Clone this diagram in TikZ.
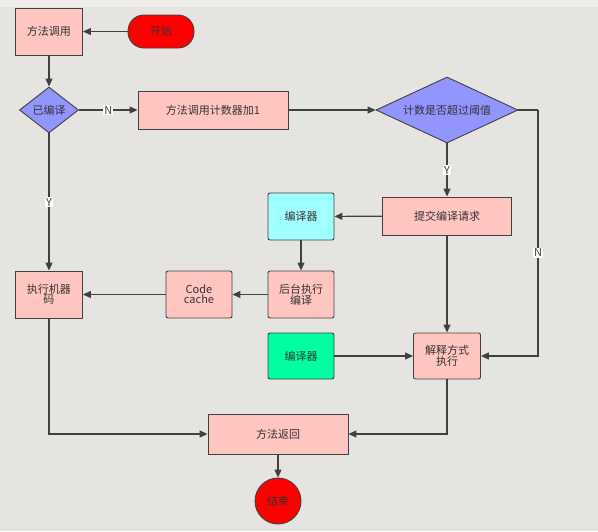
\documentclass[tikz,border=0pt]{standalone}
\usepackage{fontspec}
\setmainfont{Noto Sans CJK SC}
\usetikzlibrary{shapes.geometric,arrows.meta}
\definecolor{bg}{HTML}{E6E4E0}
\definecolor{topbg}{HTML}{EFEEEC}
\definecolor{pinkc}{HTML}{FFC6C1}
\definecolor{bluec}{HTML}{9395FF}
\definecolor{cyanc}{HTML}{A0FFFF}
\definecolor{greenc}{HTML}{00FFA0}
\definecolor{linec}{HTML}{404040}
\definecolor{txtc}{HTML}{333333}
\tikzset{
  base/.style={draw=linec, line width=0.9pt, inner sep=0pt, text=txtc, font=\fontsize{11}{10}\selectfont, align=center},
  sqbox/.style={base, rectangle, fill=pinkc},
  rbox/.style={base, rectangle, rounded corners=2pt, minimum width=66pt, minimum height=47pt},
  dia/.style={base, diamond, fill=bluec},
  conn/.style={draw=linec, line width=1.2pt, -{Triangle[length=8pt,width=7pt]}},
  plain/.style={draw=linec, line width=1.2pt},
  lbl/.style={fill=white, inner sep=0.8pt, text=linec, font=\fontsize{11}{11}\selectfont}
}
\begin{document}
\begin{tikzpicture}[x=1pt,y=-1pt]
\fill[bg] (0,0) rectangle (598,531);
\fill[topbg] (0,0) rectangle (598,7);
\useasboundingbox (0,0) rectangle (598,531);

\node[sqbox, minimum width=67pt, minimum height=47pt] (call) at (49,31.5) {方法调用};
\node[base, fill=red, rounded corners=16pt, minimum width=66pt, minimum height=33pt] (start) at (161,31.5) {开始};
\node[dia, minimum width=59pt, minimum height=46pt, aspect=1.28] (comp) at (49,110) {已编译};
\node[sqbox, minimum width=150pt, minimum height=38pt] (cnt) at (213,110) {方法调用计数器加1};
\node[dia, minimum width=142pt, minimum height=66pt, aspect=2.15] (thr) at (447,110) {计数是否超过阈值};
\node[sqbox, minimum width=129pt, minimum height=38pt] (sub) at (447,216) {提交编译请求};
\node[rbox, fill=cyanc] (jit) at (301,216.5) {编译器};
\node[rbox, fill=pinkc] (bg) at (301,294.5) {后台执行\\编译};
\node[rbox, fill=pinkc] (cc) at (199,294.5) {Code\\cache};
\node[sqbox, minimum width=67pt, minimum height=47pt] (mc) at (49,294.5) {执行机器\\码};
\node[rbox, fill=greenc, minimum height=46pt] (interp) at (301,356) {编译器};
\node[rbox, fill=pinkc, minimum width=67pt, minimum height=46pt] (ie) at (447,356) {解释方式\\执行};
\node[sqbox, minimum width=140pt, minimum height=40pt] (ret) at (278,434) {方法返回};
\node[base, circle, fill=red, minimum size=46pt] (end) at (278,501) {结束};
\coordinate (nr) at (538,110);

\draw[conn] (start) -- (call);
\draw[conn] (call) -- (comp);
\draw[conn] (comp) -- node[lbl]{N} (cnt);
\draw[conn] (comp) -- node[lbl]{Y} (mc);
\draw[conn] (cnt) -- (thr);
\draw[conn] (thr) -- node[lbl]{Y} (sub);
\draw[plain] (thr.east) -- (nr);
\draw[conn] (nr) |- node[lbl, pos=0.29]{N} (ie.east);
\draw[conn] (sub) -- (jit);
\draw[conn] (jit) -- (bg);
\draw[conn] (bg) -- (cc);
\draw[conn] (cc) -- (mc);
\draw[conn] (sub) -- (ie);
\draw[conn] (interp) -- (ie);
\draw[conn] (mc.south) |- (ret.west);
\draw[conn] (ie.south) |- (ret.east);
\draw[conn] (ret) -- (end);
\end{tikzpicture}
\end{document}
